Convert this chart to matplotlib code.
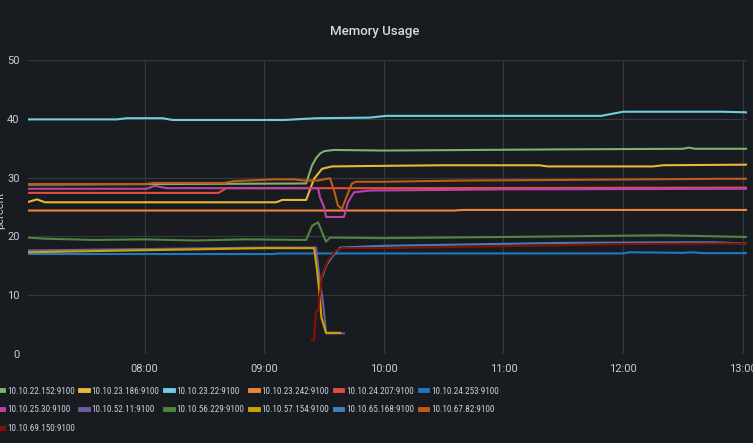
"""Memory Usage - grafana style dark panel"""
import matplotlib
matplotlib.use('Agg')
import matplotlib.pyplot as plt
import matplotlib.dates as mdates
from matplotlib.lines import Line2D
from matplotlib import font_manager
import pandas as pd

# ── data ──
DAY = '2021-01-01 '
X_START, X_END = '07:01:30', '13:02'

names = ['10.10.22.152:9100', '10.10.23.186:9100', '10.10.23.22:9100', '10.10.23.242:9100',
         '10.10.24.207:9100', '10.10.24.253:9100', '10.10.25.30:9100', '10.10.52.11:9100',
         '10.10.56.229:9100', '10.10.57.154:9100', '10.10.65.168:9100', '10.10.67.82:9100',
         '10.10.69.150:9100']
colors = ['#7eb26d', '#eab839', '#6ed0e0', '#ef843c', '#e24d42', '#1f78c1', '#ba43a9',
          '#705da0', '#508642', '#cca300', '#447ebc', '#c15c17', '#890f02']

t_22_152 = ['07:01', '08:05', '09:21', '09:24', '09:26', '09:28', '09:30', '09:35', '10:00',
            '11:30', '12:30', '12:33', '12:36', '13:02']
v_22_152 = [28.8, 28.9, 29.0, 32.1, 33.3, 34.1, 34.5, 34.7, 34.6, 34.8, 34.9, 35.1, 34.9, 34.9]

t_23_186 = ['07:01', '07:06', '07:10', '09:06', '09:09', '09:21', '09:25', '09:29', '09:34',
            '10:00', '10:30', '11:18', '11:22', '12:15', '12:20', '13:02']
v_23_186 = [25.8, 26.3, 25.8, 25.8, 26.2, 26.2, 29.8, 31.5, 31.9, 32.0, 32.1, 32.1, 31.9, 31.9,
            32.1, 32.2]

t_23_22 = ['07:01', '07:46', '07:51', '08:09', '08:14', '09:10', '09:26', '09:53', '10:01',
           '11:49', '12:00', '12:50', '13:02']
v_23_22 = [39.9, 39.9, 40.1, 40.1, 39.8, 39.8, 40.1, 40.2, 40.5, 40.5, 41.2, 41.2, 41.1]

t_23_242 = ['07:01', '10:35', '10:40', '13:02']
v_23_242 = [24.4, 24.4, 24.5, 24.5]

t_24_207 = ['07:01', '08:37', '08:41', '10:00', '13:02']
v_24_207 = [27.4, 27.4, 28.2, 28.2, 28.3]

t_24_253 = ['07:01', '09:05', '09:07', '12:00', '12:03', '12:30', '12:35', '12:40', '13:02']
v_24_253 = [17.0, 17.0, 17.1, 17.1, 17.3, 17.2, 17.3, 17.15, 17.15]

t_25_30 = ['07:01', '08:01', '08:05', '08:11', '09:27', '09:28', '09:30', '09:31', '09:40',
           '09:42', '09:45', '09:53', '10:30', '11:00', '13:02']
v_25_30 = [28.1, 28.1, 28.6, 28.2, 28.2, 26.6, 25.0, 23.3, 23.3, 25.8, 27.5, 27.8, 27.9, 28.0,
           28.1]

t_52_11 = ['07:01', '09:00', '09:26', '09:27', '09:28:30', '09:29:30', '09:30:30', '09:31',
           '09:40']
v_52_11 = [17.6, 18.1, 18.1, 15.0, 11.0, 8.7, 5.3, 3.5, 3.5]

t_56_229 = ['07:01', '07:11', '07:35', '08:00', '08:25', '08:50', '09:21', '09:24', '09:27',
            '09:29', '09:31', '09:33', '10:00', '11:00', '12:20', '13:02']
v_56_229 = [19.8, 19.6, 19.4, 19.5, 19.3, 19.5, 19.4, 21.8, 22.4, 20.7, 19.1, 19.8, 19.7, 19.9,
            20.2, 19.9]

t_57_154 = ['07:01', '09:00', '09:25', '09:26:30', '09:27:50', '09:28:40', '09:31', '09:38']
v_57_154 = [17.3, 18.0, 18.0, 14.2, 9.9, 6.2, 3.6, 3.6]

t_65_168 = ['09:29', '09:31', '09:34', '09:38', '10:00', '11:30', '12:30', '12:45', '13:02']
v_65_168 = [13.0, 15.0, 16.5, 18.1, 18.4, 18.9, 19.0, 19.0, 18.8]

t_67_82 = ['07:01', '08:00', '08:05', '08:40', '08:45', '09:05', '09:15', '09:20', '09:27',
           '09:33', '09:35', '09:37', '09:39', '09:41', '09:44', '09:46', '10:00', '10:40',
           '11:30', '12:50', '13:02']
v_67_82 = [28.9, 28.9, 29.1, 29.1, 29.4, 29.7, 29.7, 29.5, 29.5, 29.9, 27.8, 25.2, 24.7, 26.5,
           29.0, 29.3, 29.3, 29.5, 29.6, 29.8, 29.8]

t_69_150 = ['09:24', '09:25', '09:26', '09:27', '09:29', '09:32', '09:36', '09:39', '10:00',
            '12:00', '13:02']
v_69_150 = [2.4, 2.4, 7.3, 7.3, 13.5, 15.9, 17.6, 18.0, 18.0, 18.7, 18.8]

series_t = [t_22_152, t_23_186, t_23_22, t_23_242, t_24_207, t_24_253, t_25_30, t_52_11,
            t_56_229, t_57_154, t_65_168, t_67_82, t_69_150]
series_v = [v_22_152, v_23_186, v_23_22, v_23_242, v_24_207, v_24_253, v_25_30, v_52_11,
            v_56_229, v_57_154, v_65_168, v_67_82, v_69_150]

y_ticks = [0, 10, 20, 30, 40, 50]

# ── 画图 ──
BG = '#181b1f'
TXT = '#c7d0d9'
GRID = '#35383c'
plt.rcParams['font.family'] = ['Roboto', 'DejaVu Sans']

installed = {f.name for f in font_manager.fontManager.ttflist}
if 'Roboto Condensed' in installed:
    LEG_FONT, LEG_SIZE = 'Roboto Condensed', 6.6
else:
    LEG_FONT, LEG_SIZE = 'Roboto', 6.0

fig = plt.figure(figsize=(7.53, 4.43), dpi=100, facecolor=BG)
ax = fig.add_axes([28 / 753, 1 - 354 / 443, (746.7 - 28) / 753, (354 - 60) / 443])
ax.set_facecolor(BG)

def ts(s):
    return pd.to_datetime(DAY + s)

for t, v, c in zip(series_t, series_v, colors):
    ax.plot([ts(x) for x in t], v, color=c, lw=1.5, solid_joinstyle='round')

ax.set_xlim(ts(X_START), ts(X_END))
ax.set_ylim(0, 50)
ax.set_yticks(y_ticks)
ax.xaxis.set_major_locator(mdates.HourLocator())
ax.xaxis.set_major_formatter(mdates.DateFormatter('%H:%M'))
ax.grid(True, color=GRID, lw=0.9)
ax.set_axisbelow(True)
for s in ax.spines.values():
    s.set_visible(False)
ax.tick_params(length=0, colors=TXT, labelsize=8)
ax.tick_params(axis='x', pad=7)
ax.tick_params(axis='y', pad=6)

fig.text(375 / 753, 1 - 31 / 443, 'Memory Usage', color='#d8d9da', fontsize=9.5,
         fontweight='medium', ha='center', va='center')
fig.text(0.0, 1 - 210 / 443, 'percent', color=TXT, fontsize=8, rotation=90,
         ha='center', va='center')

# legend fills columns first -> reorder so it reads row by row (6 per row)
order = [0, 6, 12, 1, 7, 2, 8, 3, 9, 4, 10, 5, 11]
handles = [Line2D([0], [0], color=colors[i], lw=3.5) for i in order]
labels = [names[i] for i in order]
fig.legend(handles, labels, ncol=6, loc='upper left', bbox_to_anchor=(-0.011, 1 - 383 / 443),
           frameon=False, prop={'family': LEG_FONT, 'size': LEG_SIZE}, labelcolor=TXT,
           handlelength=0.85, handletextpad=0.4, columnspacing=0.6, labelspacing=1.05,
           borderaxespad=0)

plt.savefig('out.png', dpi=100, facecolor=BG)
